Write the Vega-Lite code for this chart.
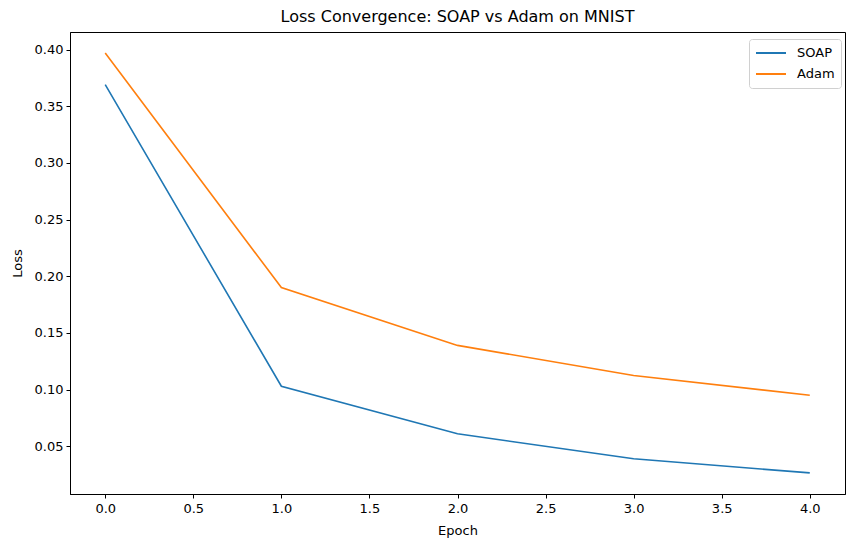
{
  "$schema": "https://vega.github.io/schema/vega-lite/v6.json",
  "width": 775,
  "height": 462,
  "autosize": {"type": "none"},
  "padding": {"left": 70, "top": 32, "right": 10, "bottom": 53},
  "background": "white",
  "title": {
    "text": "Loss Convergence: SOAP vs Adam on MNIST",
    "font": "DejaVu Sans",
    "fontSize": 16,
    "fontWeight": "normal",
    "color": "black",
    "anchor": "middle",
    "offset": 7
  },
  "config": {
    "view": {"stroke": "black", "strokeWidth": 1},
    "font": "DejaVu Sans",
    "axis": {
      "grid": false,
      "domainColor": "black",
      "tickColor": "black",
      "tickSize": 4,
      "labelColor": "black",
      "labelFont": "DejaVu Sans",
      "labelFontSize": 13,
      "titleFont": "DejaVu Sans",
      "titleFontSize": 13,
      "titleFontWeight": "normal",
      "titleColor": "black"
    }
  },
  "data": {
    "values": [
      {"epoch": 0, "loss": 0.369, "optimizer": "SOAP"},
      {"epoch": 1, "loss": 0.103, "optimizer": "SOAP"},
      {"epoch": 2, "loss": 0.061, "optimizer": "SOAP"},
      {"epoch": 3, "loss": 0.039, "optimizer": "SOAP"},
      {"epoch": 4, "loss": 0.0265, "optimizer": "SOAP"},
      {"epoch": 0, "loss": 0.397, "optimizer": "Adam"},
      {"epoch": 1, "loss": 0.190, "optimizer": "Adam"},
      {"epoch": 2, "loss": 0.139, "optimizer": "Adam"},
      {"epoch": 3, "loss": 0.1125, "optimizer": "Adam"},
      {"epoch": 4, "loss": 0.095, "optimizer": "Adam"}
    ]
  },
  "mark": {"type": "line", "strokeWidth": 1.6, "clip": true},
  "encoding": {
    "x": {
      "field": "epoch",
      "type": "quantitative",
      "title": "Epoch",
      "scale": {"domain": [-0.2, 4.2], "nice": false, "zero": false},
      "axis": {"values": [0, 0.5, 1, 1.5, 2, 2.5, 3, 3.5, 4], "format": ".1f", "labelPadding": 4, "titlePadding": 9}
    },
    "y": {
      "field": "loss",
      "type": "quantitative",
      "title": "Loss",
      "scale": {"domain": [0.0079, 0.4155], "nice": false, "zero": false},
      "axis": {"values": [0.05, 0.1, 0.15, 0.2, 0.25, 0.3, 0.35, 0.4], "format": ".2f", "labelPadding": 3, "titlePadding": 10}
    },
    "color": {
      "field": "optimizer",
      "type": "nominal",
      "scale": {"domain": ["SOAP", "Adam"], "range": ["#1f77b4", "#ff7f0e"]},
      "legend": {
        "title": null,
        "orient": "none",
        "legendX": 679,
        "legendY": 7,
        "symbolType": "stroke",
        "symbolSize": 900,
        "symbolStrokeWidth": 2,
        "clipHeight": 16,
        "labelFontSize": 13,
        "labelFont": "DejaVu Sans",
        "labelColor": "black",
        "labelOffset": 10,
        "rowPadding": 5,
        "padding": 6,
        "strokeColor": "#d0d0d0",
        "fillColor": "white",
        "cornerRadius": 3
      }
    }
  }
}
